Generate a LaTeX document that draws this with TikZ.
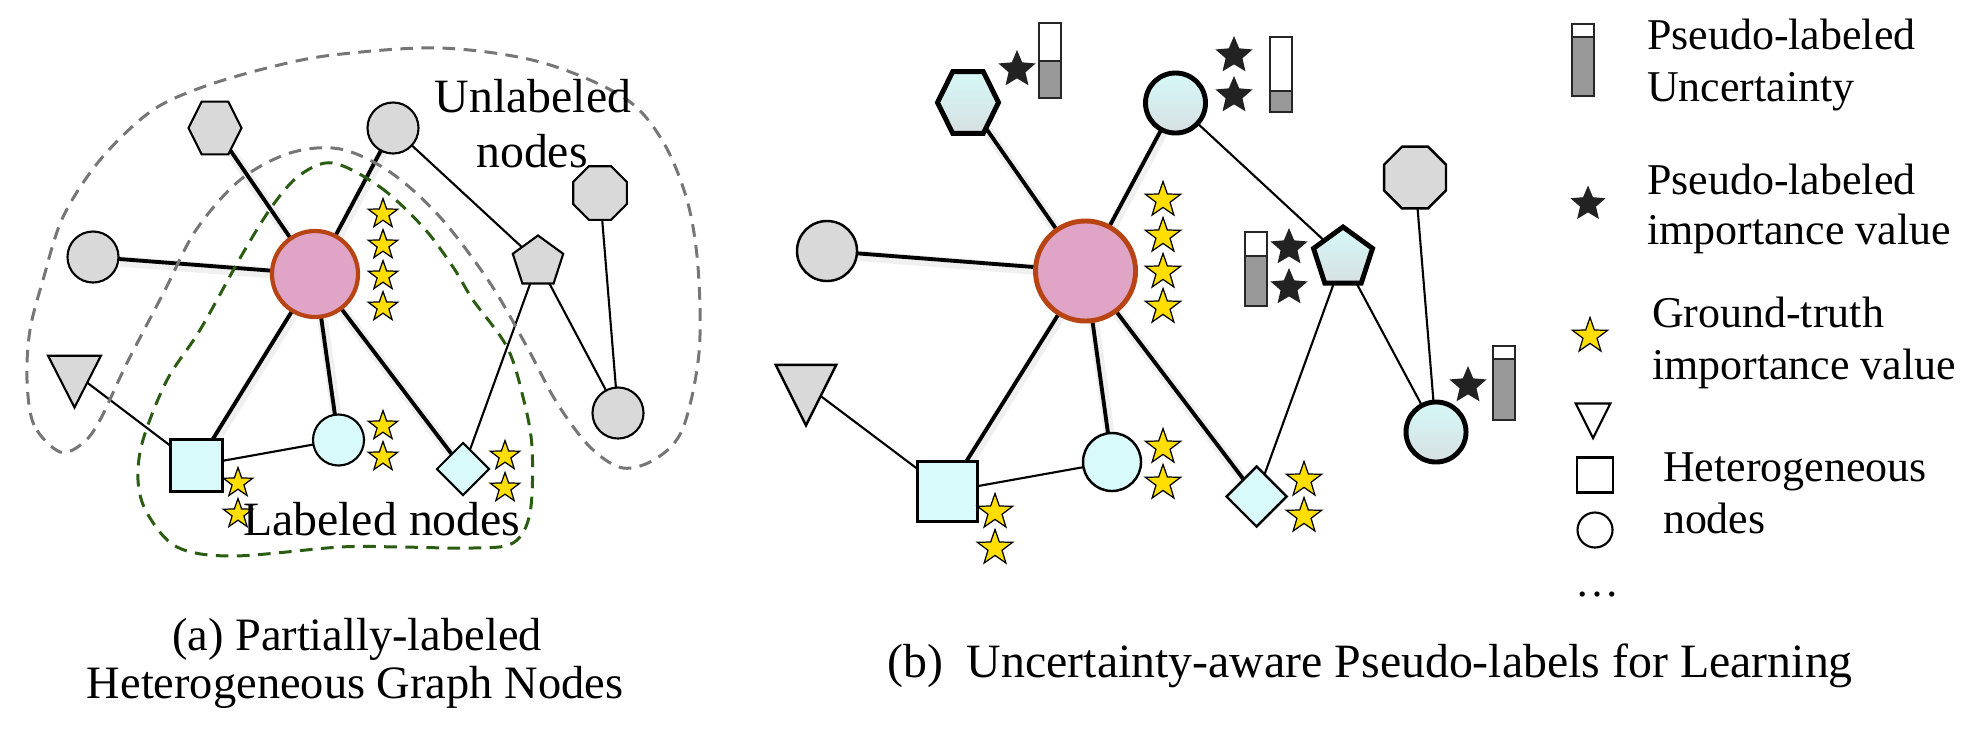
\documentclass[tikz,border=0pt]{standalone}
\usepackage{fontspec}
\setmainfont{Liberation Serif}
\usetikzlibrary{shapes.geometric,backgrounds}

\definecolor{nodegray}{RGB}{217,217,217}
\definecolor{nodecyan}{RGB}{216,250,250}
\definecolor{cyantop}{RGB}{214,248,248}
\definecolor{cyanbot}{RGB}{214,224,226}
\definecolor{hubpink}{RGB}{224,164,199}
\definecolor{hubrim}{RGB}{184,68,20}
\definecolor{stargold}{RGB}{255,222,0}
\definecolor{stardark}{RGB}{34,34,34}
\definecolor{bargray}{RGB}{153,153,153}
\definecolor{hullgray}{RGB}{118,118,118}
\definecolor{hullgreen}{RGB}{42,92,18}

\newcommand{\notefont}{\fontsize{13.6}{16}\selectfont}
\newcommand{\capfont}{\fontsize{13.2}{16}\selectfont}
\newcommand{\legfont}{\fontsize{12.5}{15}\selectfont}
% uncertainty bar: x, top, divider, bottom
\newcommand{\uncbar}[4]{%
  \draw[barline, fill=white] (#1,#2) rectangle (#1+22,#3);
  \draw[barline, fill=bargray] (#1,#3) rectangle (#1+22,#4);}

\begin{document}
\begin{tikzpicture}[x=0.01cm, y=-0.01cm]
  \tikzset{every node/.style={inner sep=0pt, outer sep=0pt}}
  \tikzstyle{hub} = [circle, draw=hubrim, fill=hubpink, line width=1.2pt]
  \tikzstyle{plain} = [draw, line width=0.6pt, fill=nodegray]
  \tikzstyle{labeled} = [draw, line width=0.6pt, fill=nodecyan]
  \tikzstyle{pseudo} = [draw, line width=1.4pt, top color=cyantop, bottom color=cyanbot]
  \tikzstyle{hexa} = [regular polygon, regular polygon sides=6]
  \tikzstyle{penta} = [regular polygon, regular polygon sides=5]
  \tikzstyle{octa} = [regular polygon, regular polygon sides=8]
  \tikzstyle{downtri} = [regular polygon, regular polygon sides=3, shape border rotate=180]
  \tikzstyle{goldstar} = [star, star points=5, star point ratio=2.5, draw, line width=0.35pt, fill=stargold]
  \tikzstyle{darkstar} = [star, star points=5, star point ratio=2.2, fill=stardark, minimum size=0.39cm]
  \tikzstyle{heavy} = [line width=1.1pt, preaction={draw=black!30, line width=3pt, opacity=0.2, transform canvas={shift={(1.5,2.5)}}}]
  \tikzstyle{light} = [line width=0.6pt]
  \tikzstyle{barline} = [draw=black!85, line width=0.5pt]
  \tikzstyle{hull} = [line width=0.85pt, dash pattern=on 3.6pt off 2.4pt]

  \useasboundingbox (0,0) rectangle (1980,736);

  % (a) hulls
  \draw[hull, hullgray] plot[smooth cycle, tension=0.55] coordinates {
    (60,452) (34,425) (27,380) (30,330) (43,280) (63,217) (100,160) (150,112) (200,88)
    (267,68) (333,55) (440,48) (540,62) (623,97) (662,140) (687,200) (698,267) (699,353)
    (683,428) (657,458) (623,468) (590,447) (557,403) (527,347) (490,283) (440,217)
    (390,172) (340,149) (290,153) (240,180) (196,230) (165,290) (127,363) (100,420) (83,443)};
  \draw[hull, hullgreen] plot[smooth cycle, tension=0.55] coordinates {
    (333,163) (380,187) (423,227) (453,267) (473,300) (507,347) (523,397) (532,447)
    (530,513) (513,543) (473,548) (400,547) (340,547) (233,556) (177,547) (147,513)
    (138,480) (143,440) (167,380) (200,330) (243,253) (273,205) (300,175)};

  % (a) graph
  \node[hub, minimum size=0.86cm] (a-hub) at (315,274) {};
  \node[plain, hexa, minimum size=0.53cm, yscale=1.15] (a-hex) at (215,128) {};
  \node[plain, circle, minimum size=0.51cm] (a-top) at (393,128) {};
  \node[plain, circle, minimum size=0.51cm] (a-left) at (93,257) {};
  \node[plain, penta, minimum size=0.53cm] (a-pent) at (538,262) {};
  \node[plain, octa, minimum size=0.58cm] (a-oct) at (600,193) {};
  \node[plain, circle, minimum size=0.51cm] (a-right) at (618,413) {};
  \node[plain, downtri, minimum size=0.61cm, yscale=1.13] (a-tri) at (74.5,373) {};
  \node[labeled, rectangle, minimum size=0.52cm] (a-sq) at (196.5,465.5) {};
  \node[labeled, circle, minimum size=0.51cm] (a-cir) at (338.5,440) {};
  \node[labeled, diamond, minimum size=0.52cm] (a-dia) at (463,469) {};

  % (b) graph
  \node[hub, line width=1.4pt, minimum size=1.0cm] (b-hub) at (1085.5,271) {};
  \node[pseudo, hexa, minimum size=0.61cm, yscale=1.17] (b-hex) at (968,102.5) {};
  \node[pseudo, circle, minimum size=0.6cm] (b-top) at (1175.5,103) {};
  \node[plain, circle, line width=0.7pt, minimum size=0.6cm] (b-left) at (827,251) {};
  \node[pseudo, penta, minimum size=0.62cm] (b-pent) at (1343,258) {};
  \node[plain, octa, line width=0.7pt, minimum size=0.67cm] (b-oct) at (1415,177.5) {};
  \node[pseudo, circle, minimum size=0.6cm] (b-right) at (1436,432) {};
  \node[plain, downtri, line width=0.7pt, minimum size=0.7cm, yscale=1.155] (b-tri) at (806,385) {};
  \node[labeled, rectangle, line width=0.7pt, minimum size=0.6cm] (b-sq) at (947.5,491.5) {};
  \node[labeled, circle, line width=0.7pt, minimum size=0.58cm] (b-cir) at (1112,462) {};
  \node[labeled, diamond, line width=0.7pt, minimum size=0.6cm] (b-dia) at (1256.5,496.5) {};

  \begin{scope}[on background layer]
    \foreach \p in {a,b} {
      \foreach \t in {hex,top,left,sq,cir,dia}
        \draw[heavy] (\p-hub) -- (\p-\t);
      \draw[light] (\p-top) -- (\p-pent);
      \draw[light] (\p-pent) -- (\p-dia);
      \draw[light] (\p-pent) -- (\p-right);
      \draw[light] (\p-oct) -- (\p-right);
      \draw[light] (\p-tri) -- (\p-sq);
      \draw[light] (\p-sq) -- (\p-cir);
    }
  \end{scope}

  % ground-truth stars
  \foreach \x/\y [count=\i] in {383/214, 383/245, 383/276, 383/307, 383/426, 383/457,
      505/456, 505/488, 238/483, 238/514}
    \node[goldstar, minimum size=0.31cm] (a-gt\i) at (\x,\y) {};
  \foreach \x/\y [count=\i] in {1163/200, 1163/236, 1163/272, 1163/307, 1163/447, 1163/483,
      1304/480, 1304/516, 995/512, 995/548}
    \node[goldstar, minimum size=0.37cm] (b-gt\i) at (\x,\y) {};

  % pseudo-labels
  \foreach \x/\y [count=\i] in {1017/69.5, 1234/55.5, 1234/95.5, 1289/247.5, 1289/287.5, 1468/385.5}
    \node[darkstar] (b-ps\i) at (\x,\y) {};
  \uncbar{1039}{23}{61}{98}
  \uncbar{1270}{37}{91}{112}
  \uncbar{1245}{232}{256}{306}
  \uncbar{1493}{346}{359}{420}

  % annotations
  \node[anchor=base, font=\notefont] (unl1) at (533,112) {Unlabeled};
  \node[anchor=base, font=\notefont] (unl2) at (532,167) {nodes};
  \node[anchor=base west, font=\notefont] (lab) at (243,535) {Labeled nodes};

  % legend
  \uncbar{1572}{24}{37}{96}
  \node[darkstar, minimum size=0.37cm] (leg-ps) at (1588,204) {};
  \node[goldstar, minimum size=0.37cm] (leg-gt) at (1590,336) {};
  \node[draw, line width=0.6pt, downtri, minimum size=0.4cm, yscale=1.155] (leg-tri) at (1593,415) {};
  \node[draw, line width=0.6pt, rectangle, minimum width=0.36cm, minimum height=0.35cm] (leg-sq) at (1595,475) {};
  \node[draw, line width=0.6pt, circle, minimum size=0.35cm] (leg-cir) at (1595,530) {};
  \node[anchor=base, font=\legfont] (leg-dots) at (1597,596) {\ldots};
  \node[anchor=base west, font=\legfont] (leg1a) at (1647,49) {Pseudo-labeled};
  \node[anchor=base west, font=\legfont] (leg1b) at (1647,101) {Uncertainty};
  \node[anchor=base west, font=\legfont] (leg2a) at (1647,194) {Pseudo-labeled};
  \node[anchor=base west, font=\legfont] (leg2b) at (1647,244) {importance value};
  \node[anchor=base west, font=\legfont] (leg3a) at (1652,327) {Ground-truth};
  \node[anchor=base west, font=\legfont] (leg3b) at (1652,379) {importance value};
  \node[anchor=base west, font=\legfont] (leg4a) at (1663,481) {Heterogeneous};
  \node[anchor=base west, font=\legfont] (leg4b) at (1663,533) {nodes};

  % captions
  \node[anchor=base, font=\capfont] (cap-a1) at (357,650) {(a) Partially-labeled};
  \node[anchor=base, font=\capfont] (cap-a2) at (355,698) {Heterogeneous Graph Nodes};
  \node[anchor=base, font=\notefont] (cap-b) at (1370,677) {(b)\ \ Uncertainty-aware Pseudo-labels for Learning};
\end{tikzpicture}
\end{document}
